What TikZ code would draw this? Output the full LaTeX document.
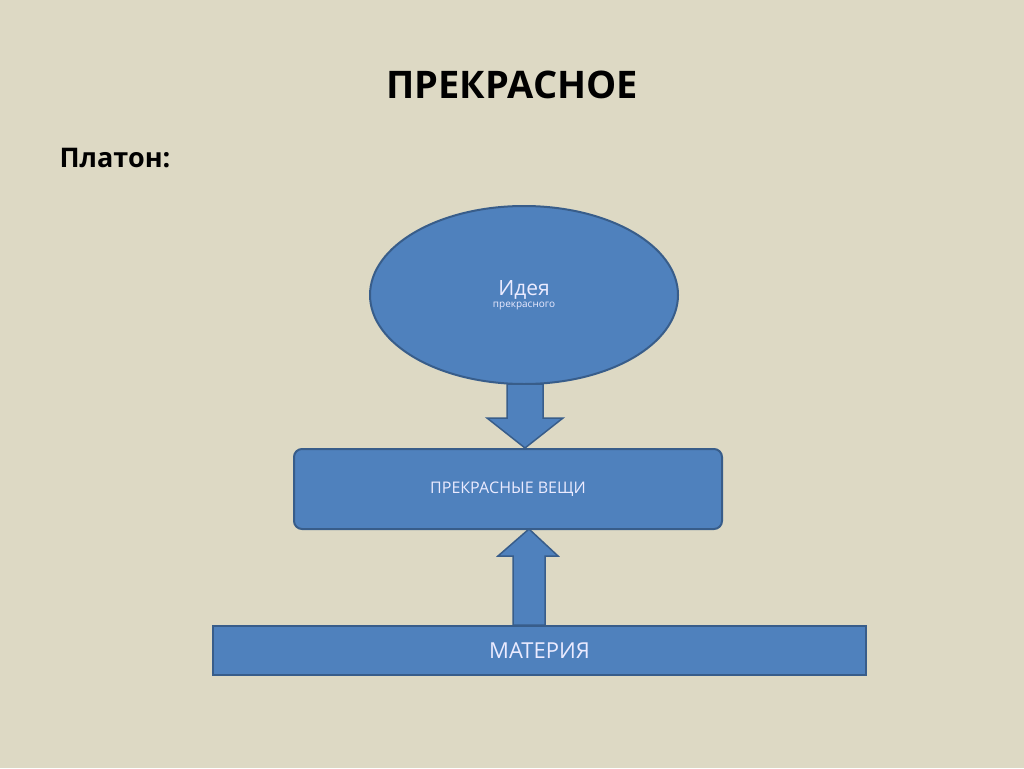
\documentclass[tikz,border=0pt]{standalone}
\usepackage{fontspec}
\setmainfont{Open Sans}
\usetikzlibrary{shapes.geometric}
\definecolor{bg}{HTML}{DDD9C4}
\definecolor{fillb}{HTML}{4F81BD}
\definecolor{edgeb}{HTML}{385D8A}
\tikzset{shp/.style={fill=fillb,draw=edgeb,line width=2pt},
lbl/.style={text=white!92!blue}}
\begin{document}
\begin{tikzpicture}[x=1pt,y=-1pt]
\fill[bg] (0,0) rectangle (1024,768);
\useasboundingbox (0,0) rectangle (1024,768);
\node (title) at (512,85) {\fontsize{38}{44}\selectfont\bfseries ПРЕКРАСНОЕ};
\node[anchor=west] (plato) at (56,158) {\fontsize{27}{32}\selectfont\bfseries Платон:};
\node[shp,ellipse,minimum width=308,minimum height=178] (idea) at (524,295) {};
\node[lbl,align=center] at (idea) {\fontsize{21}{38}\selectfont Идея\\ прекрасного};
\node[shp,rounded corners=8pt,minimum width=428,minimum height=80] (things) at (508,489) {};
\node[lbl] at (things) {\fontsize{16}{20}\selectfont ПРЕКРАСНЫЕ ВЕЩИ};
\node[shp,minimum width=653,minimum height=49] (mat) at (539.5,650.5) {};
\node[lbl] at (mat) {\fontsize{22}{26}\selectfont МАТЕРИЯ};
\draw[shp,line width=1.5pt] (507,384) -- (543,384) -- (543,418) -- (563,418) -- (525,448) -- (487,418) -- (507,418) -- cycle;
\draw[shp,line width=1.5pt] (513,625) -- (545,625) -- (545,556) -- (558,556) -- (529,529) -- (498,556) -- (513,556) -- cycle;
\end{tikzpicture}
\end{document}
